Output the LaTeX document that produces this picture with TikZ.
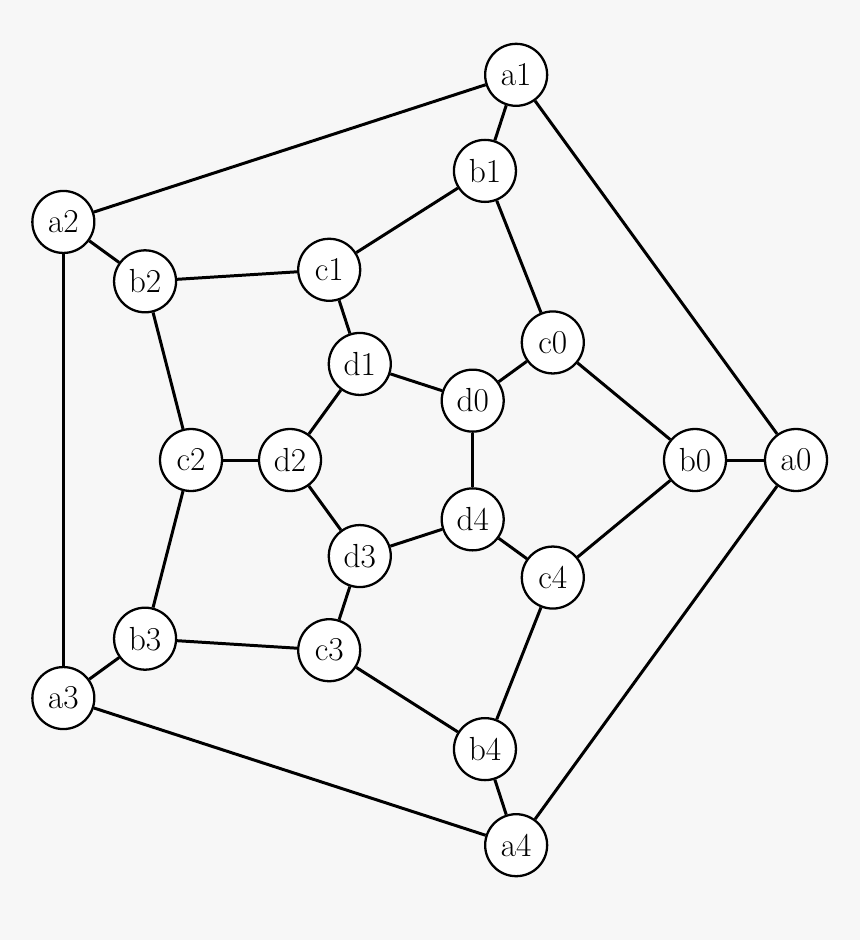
\documentclass[tikz,border=0pt]{standalone}
\begin{document}
\begin{tikzpicture}[x=0.02cm,y=-0.02cm,
  vtx/.style={circle,draw,fill=white,line width=1.3pt,minimum size=1.24cm,inner sep=0pt,font=\fontsize{19}{23}\selectfont},
  edge/.style={line width=1.7pt}]
\definecolor{bg}{HTML}{F7F7F7}
\fill[bg] (0,0) rectangle (860,940);
\useasboundingbox (0,0) rectangle (860,940);
\def\cx{391}\def\cy{460}
\foreach \i in {0,...,4}{
  \pgfmathsetmacro\ang{72*\i}
  \coordinate (pa\i) at ({\cx+405*cos(\ang)},{\cy-405*sin(\ang)});
  \coordinate (pb\i) at ({\cx+304*cos(\ang)},{\cy-304*sin(\ang)});
  \coordinate (pc\i) at ({\cx+200*cos(\ang+36)},{\cy-200*sin(\ang+36)});
  \coordinate (pd\i) at ({\cx+101*cos(\ang+36)},{\cy-101*sin(\ang+36)});
}
\foreach \i in {0,...,4}{
  \node[vtx] (a\i) at (pa\i) {a\i};
  \node[vtx] (b\i) at (pb\i) {b\i};
  \node[vtx] (c\i) at (pc\i) {c\i};
  \node[vtx] (d\i) at (pd\i) {d\i};
}
\foreach \i [evaluate=\i as \j using {int(mod(\i+1,5))}, evaluate=\i as \k using {int(mod(\i+4,5))}] in {0,...,4}{
  \draw[edge] (a\i) -- (a\j);
  \draw[edge] (a\i) -- (b\i);
  \draw[edge] (b\i) -- (c\i);
  \draw[edge] (b\i) -- (c\k);
  \draw[edge] (c\i) -- (d\i);
  \draw[edge] (d\i) -- (d\j);
}
\end{tikzpicture}
\end{document}
